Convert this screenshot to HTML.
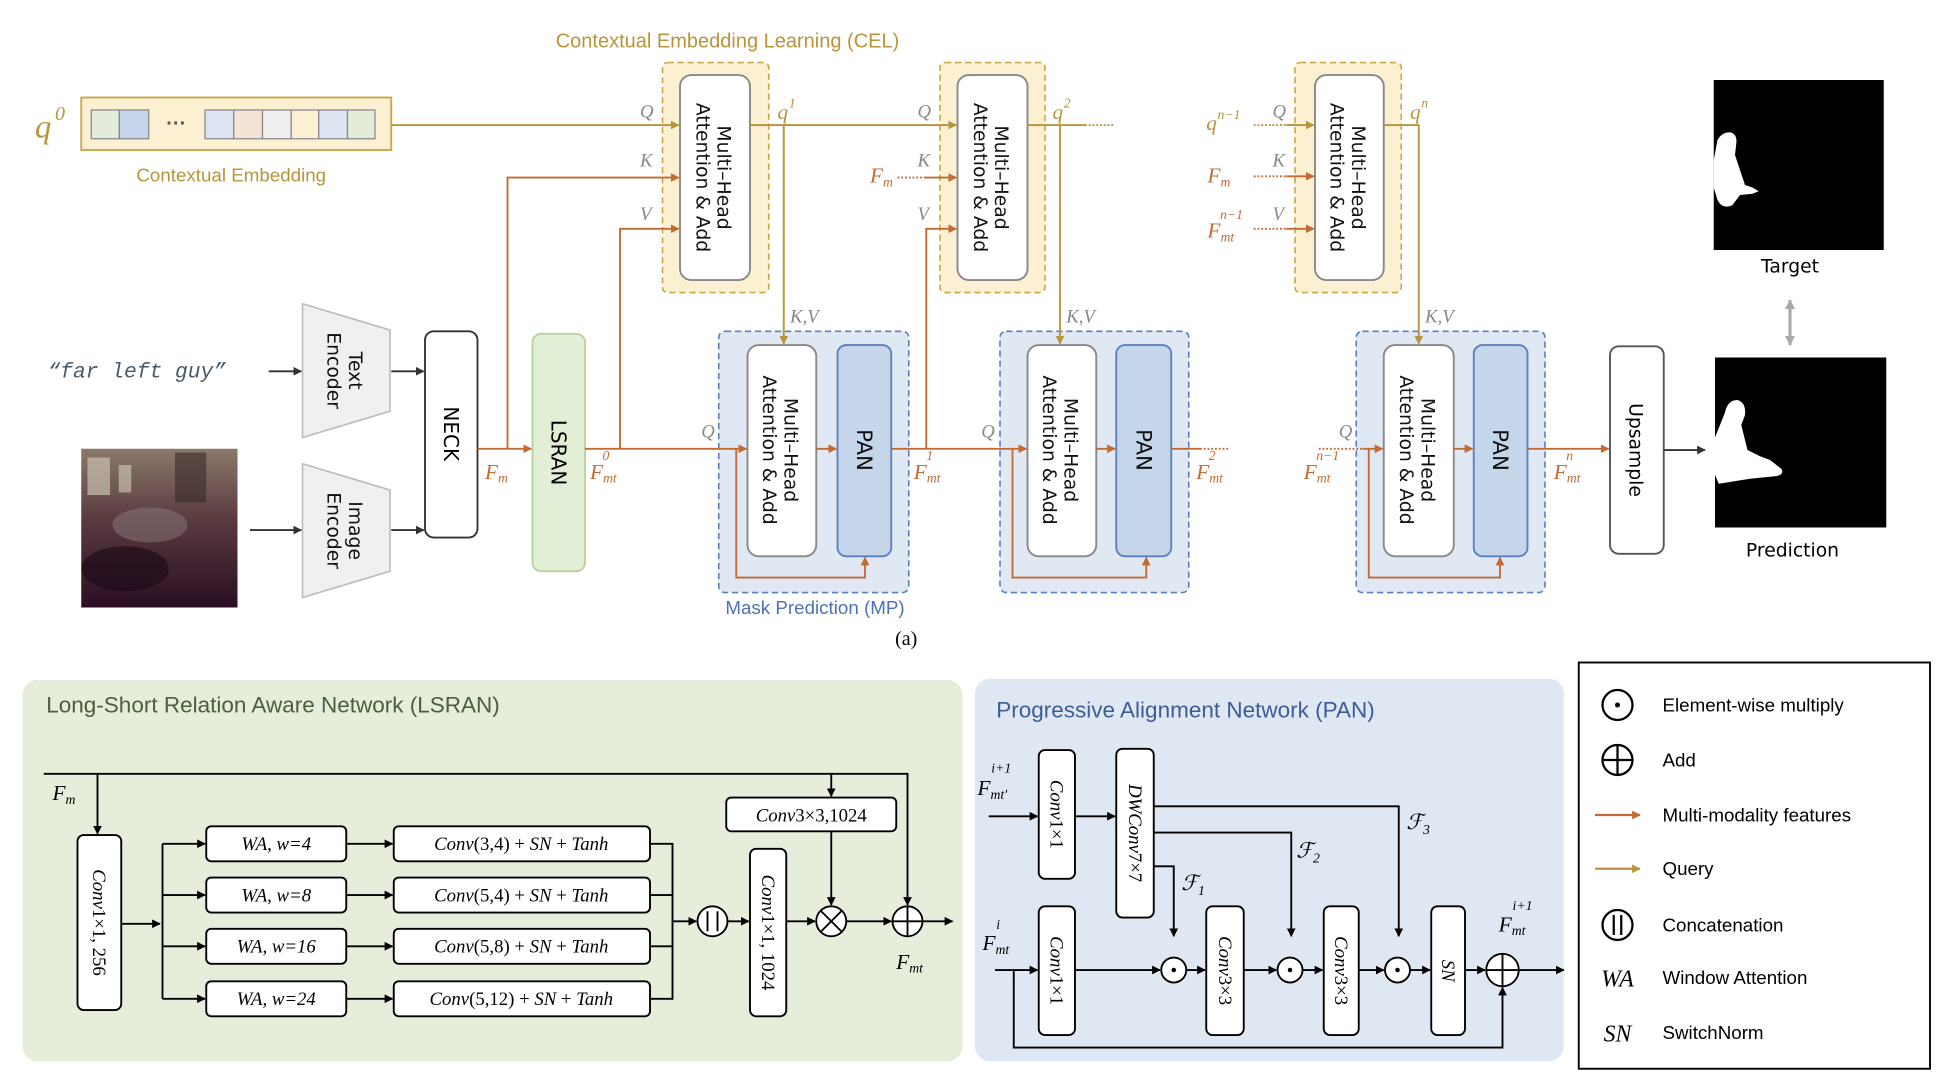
<!DOCTYPE html>
<html><head><meta charset="utf-8"><style>
html,body{margin:0;padding:0;background:#fff;}
svg{display:block;}
.sans{font-family:"DejaVu Sans","Liberation Sans",sans-serif;}
.cond{font-family:"Liberation Sans",sans-serif;}
.mi{font-family:"Liberation Serif",serif;font-style:italic;}
</style></head><body>
<svg width="1942" height="1074" viewBox="0 0 1553.6 859.2" preserveAspectRatio="none" xmlns="http://www.w3.org/2000/svg">
<defs>
<marker id="ab" viewBox="0 0 10 10" refX="9" refY="5" markerWidth="7" markerHeight="7" orient="auto-start-reverse" markerUnits="userSpaceOnUse"><path d="M0,0 L10,5 L0,10 z" fill="#c26b35"/></marker>
<marker id="ag" viewBox="0 0 10 10" refX="9" refY="5" markerWidth="7" markerHeight="7" orient="auto-start-reverse" markerUnits="userSpaceOnUse"><path d="M0,0 L10,5 L0,10 z" fill="#b8953a"/></marker>
<marker id="ak" viewBox="0 0 10 10" refX="9" refY="5" markerWidth="7" markerHeight="7" orient="auto-start-reverse" markerUnits="userSpaceOnUse"><path d="M0,0 L10,5 L0,10 z" fill="#000"/></marker>
<marker id="ad" viewBox="0 0 10 10" refX="9" refY="5" markerWidth="7" markerHeight="7" orient="auto-start-reverse" markerUnits="userSpaceOnUse"><path d="M0,0 L10,5 L0,10 z" fill="#333"/></marker>
<marker id="ay" viewBox="0 0 10 10" refX="9" refY="5" markerWidth="8" markerHeight="8" orient="auto-start-reverse" markerUnits="userSpaceOnUse"><path d="M0,0 L10,5 L0,10 z" fill="#aaa"/></marker>
<linearGradient id="ph" x1="0" y1="0" x2="0" y2="1"><stop offset="0" stop-color="#8a7a6a"/><stop offset="0.45" stop-color="#5a3a40"/><stop offset="1" stop-color="#2a0f22"/></linearGradient>
</defs>

<text x="582" y="38" class="cond" font-size="16" fill="#b8953a" text-anchor="middle">Contextual Embedding Learning (CEL)</text>

<text x="28" y="110" class="mi" font-size="26" fill="#b8953a">q</text><text x="44" y="96" class="mi" font-size="16" fill="#b8953a">0</text>
<rect x="65" y="78" width="248" height="42" fill="#fbf1d2" stroke="#c9a84a" stroke-width="1.5"/>
<g stroke="#888" stroke-width="1">
<rect x="73" y="88" width="22.5" height="23" fill="#e2ecd8"/><rect x="95.5" y="88" width="23.5" height="23" fill="#c6d4ec"/>
<rect x="164" y="88" width="23" height="23" fill="#dde5f2"/><rect x="187" y="88" width="23" height="23" fill="#f3e3d5"/><rect x="210" y="88" width="23" height="23" fill="#eeeeee"/><rect x="233" y="88" width="22" height="23" fill="#fbf1d2"/><rect x="255" y="88" width="23" height="23" fill="#dde5f2"/><rect x="278" y="88" width="22" height="23" fill="#e2ecd8"/>
</g>
<text x="141" y="104" class="cond" font-size="16" font-weight="bold" fill="#555" text-anchor="middle">···</text>
<text x="185" y="145" class="cond" font-size="15" fill="#b8953a" text-anchor="middle">Contextual Embedding</text>

<g>
<rect x="530" y="50" width="85" height="184" rx="4" fill="#fbf1d2" stroke="#c9a84a" stroke-width="1.3" stroke-dasharray="5,3"/>
<rect x="544" y="60" width="56" height="164" rx="9" fill="#fff" stroke="#888" stroke-width="1.5"/>
<rect x="752" y="50" width="84" height="184" rx="4" fill="#fbf1d2" stroke="#c9a84a" stroke-width="1.3" stroke-dasharray="5,3"/>
<rect x="766" y="60" width="56" height="164" rx="9" fill="#fff" stroke="#888" stroke-width="1.5"/>
<rect x="1036" y="50" width="85" height="184" rx="4" fill="#fbf1d2" stroke="#c9a84a" stroke-width="1.3" stroke-dasharray="5,3"/>
<rect x="1052" y="60" width="55" height="164" rx="9" fill="#fff" stroke="#888" stroke-width="1.5"/>
</g>
<g class="sans" font-size="15" fill="#111" text-anchor="middle">
<text transform="translate(572,142) rotate(90)"><tspan x="0" y="-2">Multi–Head</tspan><tspan x="0" y="15">Attention &amp; Add</tspan></text>
<text transform="translate(794,142) rotate(90)"><tspan x="0" y="-2">Multi–Head</tspan><tspan x="0" y="15">Attention &amp; Add</tspan></text>
<text transform="translate(1079.5,142) rotate(90)"><tspan x="0" y="-2">Multi–Head</tspan><tspan x="0" y="15">Attention &amp; Add</tspan></text>
</g>

<g>
<rect x="575" y="265" width="152" height="209" rx="5" fill="#e0e8f3" stroke="#5a80bf" stroke-width="1.3" stroke-dasharray="5,3"/>
<rect x="598" y="276" width="55" height="169" rx="9" fill="#fff" stroke="#888" stroke-width="1.5"/>
<rect x="670" y="276" width="43" height="169" rx="7" fill="#c5d5ea" stroke="#5a80bf" stroke-width="1.5"/>
<rect x="800" y="265" width="151" height="209" rx="5" fill="#e0e8f3" stroke="#5a80bf" stroke-width="1.3" stroke-dasharray="5,3"/>
<rect x="822" y="276" width="55" height="169" rx="9" fill="#fff" stroke="#888" stroke-width="1.5"/>
<rect x="893" y="276" width="44" height="169" rx="7" fill="#c5d5ea" stroke="#5a80bf" stroke-width="1.5"/>
<rect x="1085" y="265" width="151" height="209" rx="5" fill="#e0e8f3" stroke="#5a80bf" stroke-width="1.3" stroke-dasharray="5,3"/>
<rect x="1107" y="276" width="56" height="169" rx="9" fill="#fff" stroke="#888" stroke-width="1.5"/>
<rect x="1179" y="276" width="43" height="169" rx="7" fill="#c5d5ea" stroke="#5a80bf" stroke-width="1.5"/>
</g>
<g class="sans" font-size="15" fill="#111" text-anchor="middle">
<text transform="translate(625.5,360) rotate(90)"><tspan x="0" y="-2">Multi–Head</tspan><tspan x="0" y="15">Attention &amp; Add</tspan></text>
<text transform="translate(849.5,360) rotate(90)"><tspan x="0" y="-2">Multi–Head</tspan><tspan x="0" y="15">Attention &amp; Add</tspan></text>
<text transform="translate(1135,360) rotate(90)"><tspan x="0" y="-2">Multi–Head</tspan><tspan x="0" y="15">Attention &amp; Add</tspan></text>
<text transform="translate(691.5,360) rotate(90)" y="6" font-size="17">PAN</text>
<text transform="translate(915,360) rotate(90)" y="6" font-size="17">PAN</text>
<text transform="translate(1200.5,360) rotate(90)" y="6" font-size="17">PAN</text>
</g>
<text x="652" y="491" class="cond" font-size="15" fill="#4a72b5" text-anchor="middle">Mask Prediction (MP)</text>
<text x="725" y="516" font-family="Liberation Serif,serif" font-size="16" fill="#000" text-anchor="middle">(a)</text>

<polygon points="242,243 312,264 312,329 242,350" fill="#f0f0f0" stroke="#bbb" stroke-width="1.3"/>
<polygon points="242,371 312,392 312,457 242,478" fill="#f0f0f0" stroke="#bbb" stroke-width="1.3"/>
<g class="sans" font-size="15" fill="#111" text-anchor="middle">
<text transform="translate(277,296.5) rotate(90)"><tspan x="0" y="-2">Text</tspan><tspan x="0" y="15">Encoder</tspan></text>
<text transform="translate(277,424.5) rotate(90)"><tspan x="0" y="-2">Image</tspan><tspan x="0" y="15">Encoder</tspan></text>
</g>
<rect x="340" y="265" width="42" height="165" rx="7" fill="#fff" stroke="#333" stroke-width="1.5"/>
<text transform="translate(361,347) rotate(90)" y="6" class="sans" font-size="16" text-anchor="middle">NECK</text>
<rect x="426" y="267" width="42" height="190" rx="7" fill="#e2eed6" stroke="#b7d49a" stroke-width="1.5"/>
<text transform="translate(447,362) rotate(90)" y="6" class="sans" font-size="16" text-anchor="middle">LSRAN</text>
<rect x="1288" y="277" width="43" height="166" rx="7" fill="#fff" stroke="#555" stroke-width="1.5"/>
<text transform="translate(1309.5,360) rotate(90)" y="6" class="sans" font-size="15" text-anchor="middle">Upsample</text>

<text x="38" y="302" style="font-family:'Liberation Mono',monospace;font-style:italic" font-size="17" fill="#4a5a6a">“far left guy”</text>
<rect x="65" y="359" width="125" height="127" fill="url(#ph)"/>
<rect x="70" y="366" width="18" height="30" fill="#c9c0b0" opacity="0.7"/>
<rect x="95" y="372" width="10" height="22" fill="#d6cdbd" opacity="0.6"/>
<rect x="140" y="362" width="25" height="40" fill="#3a2a2a" opacity="0.6"/>
<ellipse cx="120" cy="420" rx="30" ry="14" fill="#8a7a7a" opacity="0.5"/>
<ellipse cx="100" cy="455" rx="35" ry="18" fill="#1e0c1a" opacity="0.7"/>

<g stroke="#333" stroke-width="1.5" fill="none">
<line x1="215" y1="297" x2="241" y2="297" marker-end="url(#ad)"/>
<line x1="200" y1="424" x2="241" y2="424" marker-end="url(#ad)"/>
<line x1="313" y1="297" x2="339" y2="297" marker-end="url(#ad)"/>
<line x1="313" y1="424" x2="339" y2="424" marker-end="url(#ad)"/>
<line x1="1331" y1="360" x2="1364" y2="360" marker-end="url(#ad)"/>
</g>

<g stroke="#b8953a" stroke-width="1.5" fill="none">
<line x1="313" y1="100" x2="543" y2="100" marker-end="url(#ag)"/>
<line x1="600" y1="100" x2="765" y2="100" marker-end="url(#ag)"/>
<line x1="627" y1="100" x2="627" y2="275" marker-end="url(#ag)"/>
<line x1="822" y1="100" x2="868" y2="100"/>
<line x1="868" y1="100" x2="891" y2="100" stroke-dasharray="1.5,1.5"/>
<line x1="848" y1="100" x2="848" y2="275" marker-end="url(#ag)"/>
<line x1="1003" y1="100" x2="1029" y2="100" stroke-dasharray="1.5,1.5"/>
<line x1="1029" y1="100" x2="1051" y2="100" marker-end="url(#ag)"/>
<polyline points="1107,100 1135,100 1135,275" marker-end="url(#ag)"/>
</g>
<g stroke="#c26b35" stroke-width="1.5" fill="none">
<line x1="382" y1="359" x2="425" y2="359" marker-end="url(#ab)"/>
<polyline points="406,359 406,142 543,142" marker-end="url(#ab)"/>
<line x1="468" y1="359" x2="597" y2="359" marker-end="url(#ab)"/>
<polyline points="496,359 496,183 543,183" marker-end="url(#ab)"/>
<line x1="653" y1="359" x2="669" y2="359" marker-end="url(#ab)"/>
<line x1="713" y1="359" x2="821" y2="359" marker-end="url(#ab)"/>
<polyline points="741,359 741,183 765,183" marker-end="url(#ab)"/>
<line x1="718" y1="142" x2="740" y2="142" stroke-dasharray="1.5,1.5"/>
<line x1="740" y1="142" x2="765" y2="142" marker-end="url(#ab)"/>
<line x1="877" y1="359" x2="892" y2="359" marker-end="url(#ab)"/>
<line x1="937" y1="359" x2="960" y2="359"/>
<line x1="960" y1="359" x2="983" y2="359" stroke-dasharray="1.5,1.5"/>
<line x1="1055" y1="359" x2="1090" y2="359" stroke-dasharray="1.5,1.5"/>
<line x1="1090" y1="359" x2="1106" y2="359" marker-end="url(#ab)"/>
<line x1="1163" y1="359" x2="1178" y2="359" marker-end="url(#ab)"/>
<line x1="1222" y1="359" x2="1287" y2="359" marker-end="url(#ab)"/>
<line x1="1003" y1="141" x2="1029" y2="141" stroke-dasharray="1.5,1.5"/>
<line x1="1029" y1="141" x2="1051" y2="141" marker-end="url(#ab)"/>
<line x1="1003" y1="183" x2="1029" y2="183" stroke-dasharray="1.5,1.5"/>
<line x1="1029" y1="183" x2="1051" y2="183" marker-end="url(#ab)"/>
<polyline points="589,359 589,462 692,462 692,446" marker-end="url(#ab)"/>
<polyline points="810,359 810,462 917,462 917,446" marker-end="url(#ab)"/>
<polyline points="1095,359 1095,462 1200,462 1200,446" marker-end="url(#ab)"/>
</g>

<g class="mi" font-size="15" fill="#888">
<text x="512" y="94">Q</text><text x="512" y="133">K</text><text x="512" y="176">V</text>
<text x="734" y="94">Q</text><text x="734" y="133">K</text><text x="734" y="176">V</text>
<text x="1018" y="94">Q</text><text x="1018" y="133">K</text><text x="1018" y="176">V</text>
<text x="632" y="258">K,V</text><text x="853" y="258">K,V</text><text x="1140" y="258">K,V</text>
<text x="561" y="350">Q</text><text x="785" y="350">Q</text><text x="1071" y="350">Q</text>
</g>
<g class="mi" fill="#b8953a">
<text x="622" y="95" font-size="17">q</text><text x="631" y="86" font-size="11">1</text>
<text x="842" y="95" font-size="17">q</text><text x="851" y="86" font-size="11">2</text>
<text x="1128" y="95" font-size="17">q</text><text x="1137" y="86" font-size="11">n</text>
<text x="965" y="104" font-size="17">q</text><text x="974" y="95" font-size="11">n−1</text>
</g>
<g class="mi" fill="#c26b35">
<text x="388" y="383" font-size="17">F<tspan font-size="11" dy="3">m</tspan></text>
<text x="472" y="383" font-size="17">F<tspan font-size="11" dy="3">mt</tspan></text><text x="482" y="368" font-size="11">0</text>
<text x="731" y="383" font-size="17">F<tspan font-size="11" dy="3">mt</tspan></text><text x="741" y="368" font-size="11">1</text>
<text x="957" y="383" font-size="17">F<tspan font-size="11" dy="3">mt</tspan></text><text x="967" y="368" font-size="11">2</text>
<text x="1043" y="383" font-size="17">F<tspan font-size="11" dy="3">mt</tspan></text><text x="1053" y="368" font-size="11">n−1</text>
<text x="1243" y="383" font-size="17">F<tspan font-size="11" dy="3">mt</tspan></text><text x="1253" y="368" font-size="11">n</text>
<text x="696" y="146" font-size="17">F<tspan font-size="11" dy="3">m</tspan></text>
<text x="966" y="146" font-size="17">F<tspan font-size="11" dy="3">m</tspan></text>
<text x="966" y="190" font-size="17">F<tspan font-size="11" dy="3">mt</tspan></text><text x="976" y="175" font-size="11">n−1</text>
</g>

<rect x="1371" y="64" width="136" height="136" fill="#000"/>
<path d="M1374,112 Q1378,105 1385,106 Q1390,108 1389,115 L1388,124 L1392,136 L1396,148 L1402,150 L1407,153 L1402,155 L1392,156 L1386,164 Q1378,168 1374,160 L1371,150 L1371,128 Z" fill="#fff"/>
<text x="1432" y="218" class="sans" font-size="15" text-anchor="middle">Target</text>
<line x1="1432" y1="240" x2="1432" y2="276" stroke="#aaa" stroke-width="2.5" marker-start="url(#ay)" marker-end="url(#ay)"/>
<rect x="1372" y="286" width="137" height="136" fill="#000"/>
<path d="M1380,330 Q1382,320 1390,320 Q1397,322 1396,332 L1393,340 L1398,360 L1408,365 L1416,368 L1425,375 Q1428,380 1420,381 L1400,383 L1375,387 L1372,380 L1372,350 Z" fill="#fff"/>
<text x="1434" y="445" class="sans" font-size="15" text-anchor="middle">Prediction</text>

<rect x="18" y="544" width="752" height="305" rx="12" fill="#e6eedb"/>
<text x="37" y="570" class="cond" font-size="18" fill="#4d5e3a">Long-Short Relation Aware Network (LSRAN)</text>
<g stroke="#000" stroke-width="1.5" fill="none">
<polyline points="35,619 726,619 726,724" marker-end="url(#ak)"/>
<line x1="78" y1="619" x2="78" y2="667" marker-end="url(#ak)"/>
<line x1="97" y1="739" x2="128" y2="739" marker-end="url(#ak)"/>
<line x1="130" y1="675" x2="130" y2="799"/>
<line x1="130" y1="675" x2="164" y2="675" marker-end="url(#ak)"/>
<line x1="130" y1="716" x2="164" y2="716" marker-end="url(#ak)"/>
<line x1="130" y1="757" x2="164" y2="757" marker-end="url(#ak)"/>
<line x1="130" y1="799" x2="164" y2="799" marker-end="url(#ak)"/>
<line x1="277" y1="675" x2="314" y2="675" marker-end="url(#ak)"/>
<line x1="277" y1="716" x2="314" y2="716" marker-end="url(#ak)"/>
<line x1="277" y1="757" x2="314" y2="757" marker-end="url(#ak)"/>
<line x1="277" y1="799" x2="314" y2="799" marker-end="url(#ak)"/>
<polyline points="520,675 538,675 538,799 520,799"/>
<line x1="520" y1="716" x2="538" y2="716"/><line x1="520" y1="757" x2="538" y2="757"/>
<line x1="538" y1="737" x2="557" y2="737" marker-end="url(#ak)"/>
<line x1="582" y1="737" x2="599" y2="737" marker-end="url(#ak)"/>
<line x1="629" y1="737" x2="652" y2="737" marker-end="url(#ak)"/>
<line x1="665" y1="619" x2="665" y2="637" marker-end="url(#ak)"/>
<line x1="665" y1="665" x2="665" y2="724" marker-end="url(#ak)"/>
<line x1="677" y1="737" x2="713" y2="737" marker-end="url(#ak)"/>
<line x1="738" y1="737" x2="762" y2="737" marker-end="url(#ak)"/>
</g>
<g fill="#fff" stroke="#000" stroke-width="1.5">
<rect x="62" y="668" width="35" height="140" rx="5"/>
<rect x="165" y="661" width="112" height="28" rx="4"/><rect x="165" y="702" width="112" height="28" rx="4"/><rect x="165" y="743" width="112" height="28" rx="4"/><rect x="165" y="785" width="112" height="28" rx="4"/>
<rect x="315" y="661" width="205" height="28" rx="4"/><rect x="315" y="702" width="205" height="28" rx="4"/><rect x="315" y="743" width="205" height="28" rx="4"/><rect x="315" y="785" width="205" height="28" rx="4"/>
<rect x="600" y="679" width="29" height="134" rx="5"/>
<rect x="581" y="638" width="136" height="27" rx="4"/>
<circle cx="570" cy="737" r="12"/><circle cx="665" cy="737" r="12"/><circle cx="726" cy="737" r="12"/>
</g>
<g stroke="#000" stroke-width="1.5">
<line x1="566" y1="729" x2="566" y2="745"/><line x1="574" y1="729" x2="574" y2="745"/>
<line x1="656.5" y1="728.5" x2="673.5" y2="745.5"/><line x1="673.5" y1="728.5" x2="656.5" y2="745.5"/>
<line x1="714" y1="737" x2="738" y2="737"/><line x1="726" y1="725" x2="726" y2="749"/>
</g>
<g class="mi" font-size="15" fill="#000" text-anchor="middle">
<text x="221" y="680">WA, w=4</text><text x="221" y="721">WA, w=8</text><text x="221" y="762">WA, w=16</text><text x="221" y="804">WA, w=24</text>
<text x="417" y="680">Conv<tspan font-style="normal">(3,4) + </tspan>SN<tspan font-style="normal"> + </tspan>Tanh</text>
<text x="417" y="721">Conv<tspan font-style="normal">(5,4) + </tspan>SN<tspan font-style="normal"> + </tspan>Tanh</text>
<text x="417" y="762">Conv<tspan font-style="normal">(5,8) + </tspan>SN<tspan font-style="normal"> + </tspan>Tanh</text>
<text x="417" y="804">Conv<tspan font-style="normal">(5,12) + </tspan>SN<tspan font-style="normal"> + </tspan>Tanh</text>
<text x="649" y="657">Conv<tspan font-style="normal">3×3,1024</tspan></text>
<text transform="translate(79.5,738) rotate(90)" y="5">Conv<tspan font-style="normal">1×1, 256</tspan></text>
<text transform="translate(614.5,746) rotate(90)" y="5">Conv<tspan font-style="normal">1×1, 1024</tspan></text>
</g>
<text x="42" y="640" class="mi" font-size="17">F<tspan font-size="11" dy="3">m</tspan></text>
<text x="717" y="775" class="mi" font-size="17">F<tspan font-size="11" dy="3">mt</tspan></text>
<text x="394" y="872" font-family="Liberation Serif,serif" font-size="16" text-anchor="middle">(b)</text>

<rect x="780" y="543" width="471" height="306" rx="12" fill="#dfe7f3"/>
<text x="797" y="574" class="cond" font-size="18" fill="#3d5d94">Progressive Alignment Network (PAN)</text>
<g stroke="#000" stroke-width="1.5" fill="none">
<line x1="791" y1="653" x2="830" y2="653" marker-end="url(#ak)"/>
<line x1="860" y1="653" x2="892" y2="653" marker-end="url(#ak)"/>
<polyline points="923,645 1119,645 1119,749" marker-end="url(#ak)"/>
<polyline points="923,666 1033,666 1033,749" marker-end="url(#ak)"/>
<polyline points="923,693 939,693 939,749" marker-end="url(#ak)"/>
<line x1="796" y1="776" x2="830" y2="776" marker-end="url(#ak)"/>
<polyline points="811,776 811,838 1202,838 1202,790" marker-end="url(#ak)"/>
<line x1="860" y1="776" x2="928" y2="776" marker-end="url(#ak)"/>
<line x1="949" y1="776" x2="964" y2="776" marker-end="url(#ak)"/>
<line x1="995" y1="776" x2="1021" y2="776" marker-end="url(#ak)"/>
<line x1="1042" y1="776" x2="1058" y2="776" marker-end="url(#ak)"/>
<line x1="1087" y1="776" x2="1107" y2="776" marker-end="url(#ak)"/>
<line x1="1128" y1="776" x2="1144" y2="776" marker-end="url(#ak)"/>
<line x1="1172" y1="776" x2="1188" y2="776" marker-end="url(#ak)"/>
<line x1="1215" y1="776" x2="1251" y2="776" marker-end="url(#ak)"/>
</g>
<g fill="#fff" stroke="#000" stroke-width="1.5">
<rect x="831" y="600" width="29" height="103" rx="5"/>
<rect x="893" y="599" width="30" height="135" rx="5"/>
<rect x="831" y="725" width="29" height="103" rx="5"/>
<rect x="965" y="725" width="30" height="103" rx="5"/>
<rect x="1059" y="725" width="28" height="103" rx="5"/>
<rect x="1145" y="725" width="27" height="103" rx="5"/>
<circle cx="939" cy="776" r="10"/><circle cx="1032" cy="776" r="10"/><circle cx="1118" cy="776" r="10"/>
<circle cx="1202" cy="776" r="13"/>
</g>
<g fill="#000"><circle cx="939" cy="776" r="1.8"/><circle cx="1032" cy="776" r="1.8"/><circle cx="1118" cy="776" r="1.8"/></g>
<g stroke="#000" stroke-width="1.5"><line x1="1189" y1="776" x2="1215" y2="776"/><line x1="1202" y1="763" x2="1202" y2="789"/></g>
<g class="mi" font-size="15" text-anchor="middle">
<text transform="translate(845.5,651.5) rotate(90)" y="5">Conv<tspan font-style="normal">1×1</tspan></text>
<text transform="translate(908,666.5) rotate(90)" y="5">DWConv<tspan font-style="normal">7×7</tspan></text>
<text transform="translate(845.5,776.5) rotate(90)" y="5">Conv<tspan font-style="normal">1×1</tspan></text>
<text transform="translate(980,776.5) rotate(90)" y="5">Conv<tspan font-style="normal">3×3</tspan></text>
<text transform="translate(1073,776.5) rotate(90)" y="5">Conv<tspan font-style="normal">3×3</tspan></text>
<text transform="translate(1158.5,776.5) rotate(90)" y="5">SN</text>
</g>
<g class="mi" font-size="17">
<text x="782" y="636">F<tspan font-size="11" dy="3">mt′</tspan></text><text x="793" y="618" font-size="11">i+1</text>
<text x="786" y="760">F<tspan font-size="11" dy="3">mt</tspan></text><text x="797" y="743" font-size="11">i</text>
<text x="1199" y="745">F<tspan font-size="11" dy="3">mt</tspan></text><text x="1210" y="728" font-size="11">i+1</text>
<text x="1125" y="663">ℱ<tspan font-size="11" dy="4">3</tspan></text>
<text x="1037" y="686">ℱ<tspan font-size="11" dy="4">2</tspan></text>
<text x="945" y="712">ℱ<tspan font-size="11" dy="4">1</tspan></text>
</g>
<text x="1004" y="872" font-family="Liberation Serif,serif" font-size="16" text-anchor="middle">(c)</text>

<rect x="1263" y="530" width="281" height="325" fill="#fff" stroke="#000" stroke-width="1.5"/>
<g stroke="#000" stroke-width="1.8" fill="none">
<circle cx="1294" cy="564" r="12"/>
<circle cx="1294" cy="608" r="12"/><line x1="1282" y1="608" x2="1306" y2="608"/><line x1="1294" y1="596" x2="1294" y2="620"/>
<circle cx="1294" cy="740" r="12"/><line x1="1291" y1="732" x2="1291" y2="748"/><line x1="1297" y1="732" x2="1297" y2="748"/>
</g>
<circle cx="1294" cy="564" r="2" fill="#000"/>
<line x1="1276" y1="652" x2="1312" y2="652" stroke="#c26b35" stroke-width="1.8" marker-end="url(#ab)"/>
<line x1="1276" y1="695" x2="1312" y2="695" stroke="#b8953a" stroke-width="1.8" marker-end="url(#ag)"/>
<text x="1294" y="789" class="mi" font-size="19" text-anchor="middle">WA</text>
<text x="1294" y="833" class="mi" font-size="19" text-anchor="middle">SN</text>
<g class="cond" font-size="15" fill="#000">
<text x="1330" y="569">Element-wise multiply</text>
<text x="1330" y="613">Add</text>
<text x="1330" y="657">Multi-modality features</text>
<text x="1330" y="700">Query</text>
<text x="1330" y="745">Concatenation</text>
<text x="1330" y="787">Window Attention</text>
<text x="1330" y="831">SwitchNorm</text>
</g>
</svg>
</body></html>
